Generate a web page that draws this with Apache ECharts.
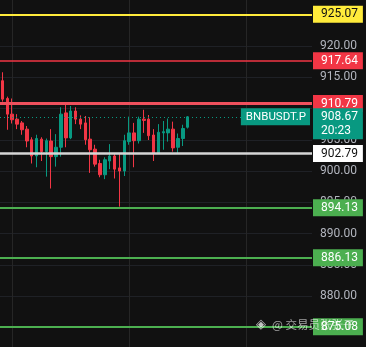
<!DOCTYPE html>
<html>
<head>
<meta charset="utf-8">
<script src="https://cdn.jsdelivr.net/npm/echarts@6/dist/echarts.min.js"></script>
<style>
html,body{margin:0;padding:0;background:#111111;}
#chart{width:366px;height:347px;}
</style>
</head>
<body>
<div id="chart"></div>
<script>
// ---- data ----
const slotCount = 64;
const categories = Array.from({length: slotCount}, (_, i) => String(i));
// candles: [open, close, low, high]
const candles = [
  [914.45, 911.5, 911.1, 915.8],
  [911.6, 909.1, 906.6, 911.9],
  [909.1, 908.2, 907.6, 911.6],
  [908.3, 907.5, 906.7, 909.1],
  [907.7, 906.6, 905.8, 908.0],
  [906.7, 904.8, 903.8, 907.2],
  [905.0, 902.4, 901.2, 905.4],
  [902.4, 905.2, 900.6, 905.8],
  [905.1, 903.1, 901.6, 905.4],
  [903.1, 904.85, 899.1, 905.2],
  [904.8, 902.3, 897.2, 906.7],
  [902.3, 903.8, 900.7, 905.9],
  [903.8, 909.1, 902.3, 910.2],
  [909.3, 905.3, 903.8, 910.6],
  [905.3, 909.6, 905.1, 910.4],
  [909.6, 908.3, 907.5, 910.2],
  [908.3, 907.5, 906.7, 908.9],
  [907.7, 905.0, 904.2, 908.8],
  [905.1, 903.4, 899.7, 908.6],
  [903.5, 901.1, 900.7, 904.2],
  [901.2, 899.4, 899.0, 901.8],
  [899.4, 901.8, 898.7, 902.2],
  [901.6, 902.4, 900.3, 904.3],
  [902.4, 900.3, 898.8, 902.7],
  [900.5, 900.0, 894.3, 902.7],
  [900.0, 904.85, 899.2, 905.8],
  [904.7, 906.1, 904.2, 908.7],
  [906.1, 904.85, 900.6, 907.7],
  [904.85, 908.3, 904.4, 908.7],
  [908.3, 908.1, 906.1, 909.8],
  [908.3, 905.65, 904.96, 908.96],
  [905.76, 902.8, 901.6, 906.7],
  [902.9, 906.2, 902.8, 907.5],
  [906.1, 906.3, 903.4, 908.0],
  [906.1, 906.7, 904.7, 908.4],
  [906.7, 903.7, 903.1, 907.9],
  [903.8, 905.2, 902.8, 906.0],
  [905.2, 906.8, 904.0, 907.4],
  [907.0, 908.67, 906.8, 908.8]
];
const symbolName = 'BNBUSDT.P';
const lastPrice = 908.67;
const countdown = '20:23';
const yellowLevels = [925.07];
const redLevels = [917.64, 910.79];
const whiteLevels = [902.79];
const greenLevels = [894.13, 886.13, 875.08];
const yMin = 870, yMax = 930, yStep = 5;
const watermark = '@ 交易员张张子';

// ---- styling ----
const UP = '#089981', DOWN = '#f23645';
const FONT = 'Roboto, "Liberation Sans", Arial, sans-serif';
function boxLabel(bg, fg) {
  return {
    show: true, position: 'end', distance: 1,
    formatter: p => p.value.toFixed(2),
    backgroundColor: bg, color: fg,
    fontFamily: FONT, fontSize: 12, lineHeight: 13,
    padding: [2, 5, 2, 8]
  };
}
const lines = [];
yellowLevels.forEach(v => lines.push({yAxis: v, lineStyle: {color: '#ffeb3b', width: 2, type: 'solid'}, label: boxLabel('#ffeb3b', '#111111')}));
lines.push({yAxis: redLevels[0], lineStyle: {color: '#f23645', width: 1.5, type: 'solid'}, label: boxLabel('#f23645', '#ffffff')});
lines.push({yAxis: redLevels[1], lineStyle: {color: '#f0505d', width: 3, type: 'solid'}, label: boxLabel('#f23645', '#ffffff')});
whiteLevels.forEach(v => lines.push({yAxis: v, lineStyle: {color: '#d6d6d6', width: 2.5, type: 'solid'}, label: boxLabel('#ffffff', '#111111')}));
greenLevels.forEach(v => lines.push({yAxis: v, lineStyle: {color: '#4caf50', width: 2, type: 'solid'}, label: boxLabel('#4caf50', '#ffffff')}));
// last price line + symbol tag
lines.push({yAxis: lastPrice, lineStyle: {color: UP, width: 1, type: [1, 3]},
  label: {show: true, position: 'insideEnd', distance: 2, formatter: symbolName,
    backgroundColor: UP, color: '#ffffff', fontFamily: FONT, fontSize: 11.5, lineHeight: 13, padding: [2, 4, 2, 5]}});
lines.push({yAxis: lastPrice, lineStyle: {color: 'rgba(0,0,0,0)', width: 1, type: 'solid'},
  label: {show: true, position: 'end', distance: 1, offset: [0, 7],
    formatter: p => p.value.toFixed(2) + '\n' + countdown,
    backgroundColor: UP, color: '#ffffff', fontFamily: FONT, fontSize: 12, lineHeight: 14, padding: [2, 5, 1, 8]}});

const chart = echarts.init(document.getElementById('chart'), null, {renderer: 'canvas'});
chart.setOption({
  backgroundColor: '#111111',
  animation: false,
  grid: {left: 0, right: 54, top: -16.5, bottom: -11.5, containLabel: false, outerBoundsMode: 'none'},
  xAxis: {
    type: 'category', data: categories, boundaryGap: true,
    axisLine: {show: false}, axisTick: {show: false}, axisLabel: {show: false},
    splitLine: {show: true, alignWithLabel: true, interval: idx => idx % 24 === 2,
      lineStyle: {color: '#262626', width: 1}}
  },
  yAxis: {
    type: 'value', position: 'right', min: yMin, max: yMax, interval: yStep, scale: true,
    axisLine: {show: false}, axisTick: {show: false},
    axisLabel: {color: '#b2b5be', fontFamily: FONT, fontSize: 12, align: 'right', margin: 45,
      formatter: v => v.toFixed(2)},
    splitLine: {show: true, lineStyle: {color: '#1f2126', width: 1}}
  },
  series: [{
    type: 'candlestick', data: candles, barWidth: 3,
    itemStyle: {color: UP, color0: DOWN, borderColor: UP, borderColor0: DOWN, borderWidth: 1},
    markLine: {symbol: ['none', 'none'], silent: true, animation: false, precision: 2, data: lines}
  }],
  graphic: [{
    type: 'group', left: 256, top: 318, zlevel: 5, z: 100,
    children: [
      {type: 'text', x: 0, y: 0, zlevel: 5, z: 100, style: {text: '◈', fill: 'rgba(255,255,255,0.75)', font: '13px "DejaVu Sans"', textVerticalAlign: 'top'}},
      {type: 'text', x: 16, y: 1, zlevel: 5, z: 100, style: {text: watermark, fill: 'rgba(255,255,255,0.6)', font: '11.5px "Noto Sans CJK SC"', textVerticalAlign: 'top'}}
    ]
  }]
});
</script>
</body>
</html>
